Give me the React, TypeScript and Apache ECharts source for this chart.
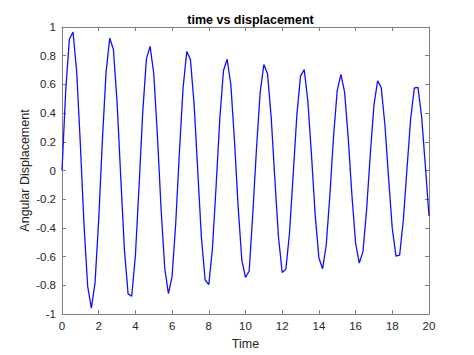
import React, { useEffect, useRef } from "react";
import * as echarts from "echarts";

const TITLE = "time vs displacement";
const X_LABEL = "Time";
const Y_LABEL = "Angular Displacement";
const SAMPLE_STEP = 0.2; // time step between samples, t = 0 ... 20

const displacement: number[] = [
  0, 0.553, 0.915, 0.965, 0.688, 0.183, -0.38, -0.808, -0.959, -0.783,
  -0.344, 0.208, 0.684, 0.922, 0.845, 0.481, -0.043, -0.548, -0.86, -0.876,
  -0.592, -0.108, 0.407, 0.778, 0.865, 0.677, 0.244, -0.268, -0.683, -0.858,
  -0.737, -0.362, 0.134, 0.578, 0.83, 0.773, 0.461, -0.008, -0.47, -0.763,
  -0.795, -0.54, -0.106, 0.361, 0.697, 0.775, 0.601, 0.207, -0.255, -0.624,
  -0.745, -0.7, -0.296, 0.155, 0.546, 0.738, 0.674, 0.37, -0.061, -0.467,
  -0.71, -0.689, -0.432, -0.024, 0.389, 0.659, 0.703, 0.481, 0.1, -0.313,
  -0.61, -0.685, -0.519, -0.167, 0.241, 0.559, 0.67, 0.546, 0.224, -0.174,
  -0.507, -0.645, -0.565, -0.273, 0.113, 0.455, 0.625, 0.576, 0.314, -0.058,
  -0.406, -0.597, -0.59, -0.347, 0.01, 0.359, 0.575, 0.579, 0.373, 0.033,
  -0.316,
];

const xTicks = { min: 0, max: 20, interval: 2 };
const yTicks = { min: -1, max: 1, interval: 0.2 };

export default function App() {
  const ref = useRef<HTMLDivElement>(null);

  useEffect(() => {
    if (!ref.current) return;
    const chart = echarts.init(ref.current, undefined, { renderer: "svg" });
    const data = displacement.map((v, i) => [Math.round(i * SAMPLE_STEP * 10) / 10, v]);
    const axisColor = "#808080";
    const labelStyle = {
      color: "#262626",
      fontSize: 11.5,
      fontFamily: "Liberation Sans, Arial, sans-serif",
    };
    const fmt = (v: number) => {
      const r = Math.round(v * 10) / 10;
      return String(r === 0 ? 0 : r);
    };
    chart.setOption({
      animation: false,
      backgroundColor: "#ffffff",
      title: {
        text: TITLE,
        left: 245.5,
        textAlign: "center",
        top: 8,
        textStyle: {
          fontSize: 12.5,
          fontWeight: "bold",
          color: "#000",
          fontFamily: "Liberation Sans, Arial, sans-serif",
        },
      },
      grid: { left: 62, right: 45, top: 27, bottom: 40, containLabel: false },
      xAxis: [
        {
          type: "value",
          ...xTicks,
          position: "bottom",
          name: X_LABEL,
          nameLocation: "middle",
          nameGap: 23,
          nameMoveOverlap: false,
          nameTextStyle: { ...labelStyle, fontSize: 12.5 },
          axisLine: { show: true, onZero: false, lineStyle: { color: axisColor, width: 1 } },
          axisTick: { show: true, inside: true, length: 4, lineStyle: { color: axisColor } },
          axisLabel: { ...labelStyle, margin: 6, formatter: fmt },
          splitLine: { show: false },
        },
        {
          type: "value",
          ...xTicks,
          position: "top",
          axisLine: { show: true, onZero: false, lineStyle: { color: axisColor, width: 1 } },
          axisTick: { show: true, inside: true, length: 4, lineStyle: { color: axisColor } },
          axisLabel: { show: false },
          splitLine: { show: false },
        },
      ],
      yAxis: [
        {
          type: "value",
          ...yTicks,
          position: "left",
          name: Y_LABEL,
          nameLocation: "middle",
          nameGap: 31,
          nameMoveOverlap: false,
          nameTextStyle: { ...labelStyle, fontSize: 12.5 },
          axisLine: { show: true, onZero: false, lineStyle: { color: axisColor, width: 1 } },
          axisTick: { show: true, inside: true, length: 4, lineStyle: { color: axisColor } },
          axisLabel: { ...labelStyle, margin: 6, formatter: fmt },
          splitLine: { show: false },
        },
        {
          type: "value",
          ...yTicks,
          position: "right",
          axisLine: { show: true, onZero: false, lineStyle: { color: axisColor, width: 1 } },
          axisTick: { show: true, inside: true, length: 4, lineStyle: { color: axisColor } },
          axisLabel: { show: false },
          splitLine: { show: false },
        },
      ],
      series: [
        {
          type: "line",
          data,
          xAxisIndex: 0,
          yAxisIndex: 0,
          showSymbol: false,
          symbol: "none",
          lineStyle: { color: "#1010ff", width: 1.3 },
          clip: true,
        },
      ],
    });
    return () => chart.dispose();
  }, []);

  return (
    <div
      ref={ref}
      style={{ position: "fixed", left: 0, top: 0, width: 474, height: 355, background: "#fff" }}
    />
  );
}
